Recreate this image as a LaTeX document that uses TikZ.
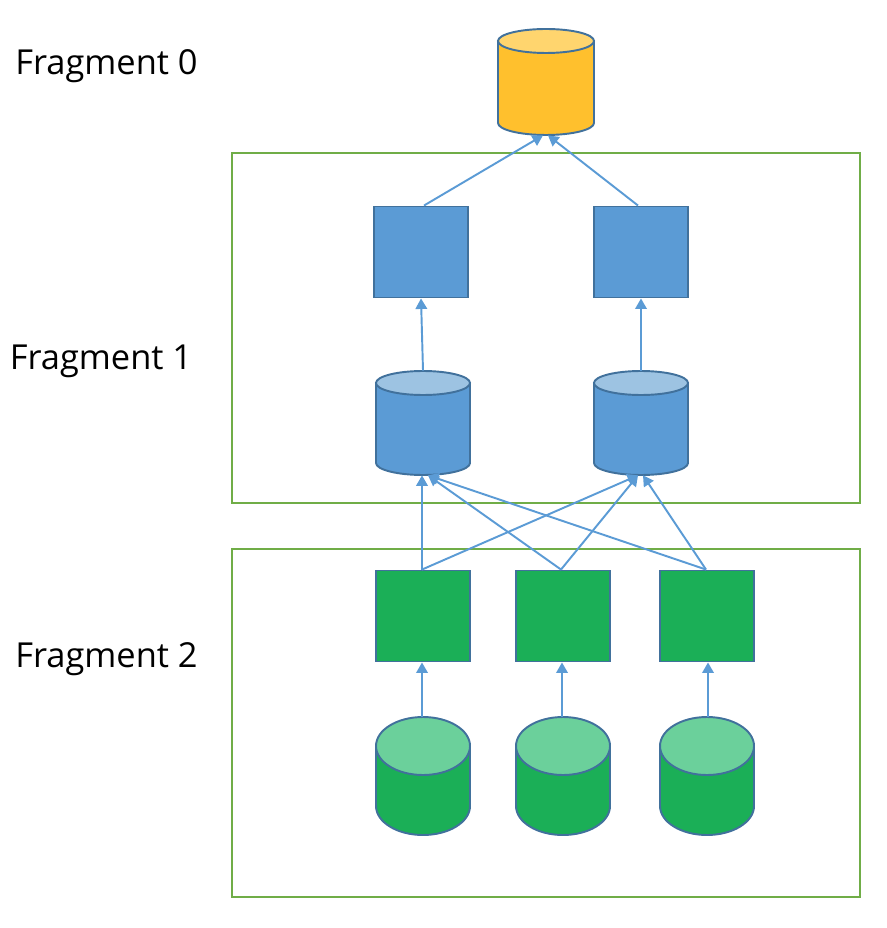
\documentclass[tikz,border=0pt]{standalone}
\usepackage{fontspec}
\setmainfont{Open Sans}
\usepackage{xcolor}
\usetikzlibrary{arrows.meta}
\definecolor{framegreen}{HTML}{70AD47}
\definecolor{edgeblue}{HTML}{5B9BD5}
\definecolor{lineblue}{HTML}{41719C}
\definecolor{fillgreen}{HTML}{1BAF57}
\definecolor{topgreen}{HTML}{6BD09B}
\definecolor{topblue}{HTML}{9DC3E2}
\definecolor{fillgold}{HTML}{FFC02D}
\definecolor{topgold}{HTML}{FFD56E}
\tikzset{
  frame/.style={draw=framegreen,line width=1.5pt,inner sep=0pt},
  box/.style={draw=lineblue,line width=1.1pt,minimum width=1.88cm,minimum height=1.82cm,inner sep=0pt},
  canline/.style={draw=lineblue,line width=1.1pt},
  link/.style={draw=edgeblue,line width=1.1pt,-{Triangle[length=0.21cm,width=0.23cm]}},
  label/.style={font=\fontsize{19.6}{23}\selectfont,inner sep=0pt}
}
% name, x, top, bottom, side radius, end radius, body colour, end colour
\newcommand{\dbcan}[8]{
  \node[minimum width=1.88cm,minimum height={(#4-#3)*0.02cm},inner sep=0pt] (#1) at (#2,{(#3+#4)/2}) {};
  \draw[canline,fill=#7] (#2-#5,#3+#6) -- (#2-#5,#4-#6) arc[start angle=180,end angle=0,x radius=#5,y radius=#6] -- (#2+#5,#3+#6) -- cycle;
  \draw[canline,fill=#8] (#2,#3+#6) ellipse[x radius=#5,y radius=#6];
}
\begin{document}
\begin{tikzpicture}[x=0.02cm,y=-0.02cm]
  \useasboundingbox (0,0) rectangle (886,928);
  \node[frame,minimum width=12.56cm,minimum height=7cm] (frameA) at (546,328) {};
  \node[frame,minimum width=12.56cm,minimum height=6.96cm] (frameB) at (546,723) {};
  \node[label] (textA) at (106.5,66) {Fragment 0};
  \node[label] (textB) at (101,361) {Fragment 1};
  \node[label] (textC) at (106.5,659) {Fragment 2};
  \dbcan{gold}{546}{29}{135}{48}{12}{fillgold}{topgold}
  \node[box,fill=edgeblue] (boxA) at (421,252) {};
  \node[box,fill=edgeblue] (boxB) at (641,252) {};
  \dbcan{canA}{423}{371}{475}{47}{12}{edgeblue}{topblue}
  \dbcan{canB}{641}{371}{475}{47}{12}{edgeblue}{topblue}
  \node[box,fill=fillgreen] (boxC) at (423,616) {};
  \node[box,fill=fillgreen] (boxD) at (563,616) {};
  \node[box,fill=fillgreen] (boxE) at (707,616) {};
  \dbcan{canC}{423}{717}{835}{47}{29}{fillgreen}{topgreen}
  \dbcan{canD}{563}{717}{835}{47}{29}{fillgreen}{topgreen}
  \dbcan{canE}{707}{717}{835}{47}{29}{fillgreen}{topgreen}
  \draw[link] ([xshift=0.06cm]boxA.north) -- ([xshift=-0.06cm]gold.south);
  \draw[link] ([xshift=-0.06cm]boxB.north) -- ([xshift=0.04cm]gold.south);
  \draw[link] (canA.north) -- (boxA.south);
  \draw[link] (canB.north) -- (boxB.south);
  \draw[link] ([xshift=-0.02cm]boxC.north) -- ([xshift=-0.02cm]canA.south);
  \draw[link] ([xshift=-0.02cm]boxC.north) -- ([xshift=-0.06cm]canB.south);
  \draw[link] ([xshift=-0.04cm]boxD.north) -- ([xshift=0.1cm]canA.south);
  \draw[link] ([xshift=-0.04cm]boxD.north) -- ([xshift=-0.06cm]canB.south);
  \draw[link] ([xshift=-0.02cm]boxE.north) -- ([xshift=0.1cm]canA.south);
  \draw[link] ([xshift=-0.02cm]boxE.north) -- ([xshift=0.04cm]canB.south);
  \draw[link] ([xshift=-0.02cm]canC.north) -- ([xshift=-0.02cm]boxC.south);
  \draw[link] ([xshift=-0.02cm]canD.north) -- ([xshift=-0.02cm]boxD.south);
  \draw[link] ([xshift=0.02cm]canE.north) -- ([xshift=0.02cm]boxE.south);
\end{tikzpicture}
\end{document}
